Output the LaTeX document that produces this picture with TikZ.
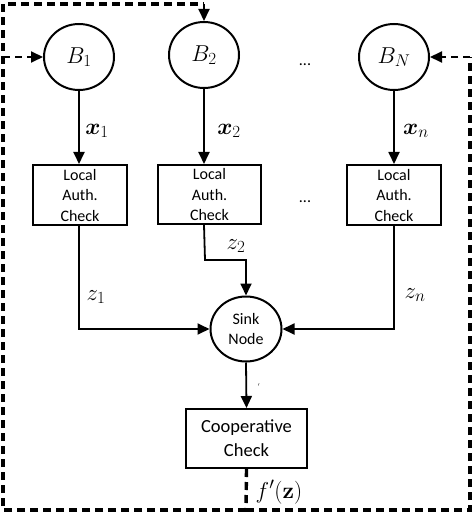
\RequirePackage{fix-cm}
\documentclass[tikz,border=0pt]{standalone}
\usepackage{amsmath}
\usepackage{bm}
\usepackage[no-math]{fontspec}
\setmainfont{Carlito}
\usetikzlibrary{shapes.geometric,arrows.meta}
\newcommand\mfsz{\fontsize{23}{27}\selectfont}
\newcommand\lfsz{\fontsize{16}{20.5}\selectfont}
\newcommand\cfsz{\fontsize{18.5}{24}\selectfont}
\DeclareMathSizes{23}{23}{17}{13}
\begin{document}
\begin{tikzpicture}[x=1pt,y=-1pt,
  bnode/.style={ellipse,draw,line width=2pt,minimum width=70pt,minimum height=66pt,inner sep=0pt,font=\mfsz},
  lbox/.style={rectangle,draw,line width=2pt,minimum width=94pt,minimum height=60pt,inner sep=0pt,align=center,font=\lfsz},
  arr/.style={line width=1.8pt,-{Triangle[length=12pt,width=11pt]}},
  feedback/.style={line width=3.4pt,dash pattern=on 8pt off 5pt},
  fbarr/.style={line width=2pt,dash pattern=on 7pt off 5pt,-{Triangle[length=12pt,width=11pt]}},
  lbl/.style={font=\mfsz,inner sep=0pt}]
\useasboundingbox (0,0) rectangle (474,513);
% source nodes
\node[bnode] (B1) at (79,57) {$B_1$};
\node[bnode] (B2) at (204,55) {$B_2$};
\node[bnode] (BN) at (394,57) {$B_N$};
\node[font=\lfsz] (d1) at (305,65) {...};
% local checks
\node[lbox] (L1) at (80,195) {Local\\Auth.\\Check};
\node[lbox,minimum width=103pt,minimum height=59pt] (L2) at (209.5,194.5) {Local\\Auth.\\Check};
\node[lbox] (LN) at (394,195) {Local\\Auth.\\Check};
\node[font=\lfsz] (d2) at (305,202) {...};
% sink and cooperative
\node[bnode,minimum width=71pt,minimum height=65pt,font=\lfsz,align=center] (S) at (246,329) {Sink\\Node};
\node[lbox,minimum width=121pt,minimum height=59pt,font=\cfsz] (C) at (246.5,438.5) {Cooperative\\Check};
% labels
\node[lbl] (x1) at (97,131) {$\bm{x}_1$};
\node[lbl] (x2) at (229,131) {$\bm{x}_2$};
\node[lbl] (xn) at (416,131) {$\bm{x}_n$};
\node[lbl] (z1) at (96,297) {$z_1$};
\node[lbl] (z2) at (236,246) {$z_2$};
\node[lbl] (zn) at (415,295) {$z_n$};
\node[lbl] (fz) at (279,492) {$f'(\mathbf{z})$};
\node[font=\fontsize{7}{7}\selectfont,inner sep=0pt] (tick) at (259,387) {$'$};
% connectors
\coordinate (k2) at (205,260);
\coordinate (k3) at (246,260);
\draw[arr] (B1.south) -- (B1.south |- L1.north);
\draw[arr] (B2.south) -- (B2.south |- L2.north);
\draw[arr] (BN.south) -- (BN.south |- LN.north);
\draw[arr] (B1.south |- L1.south) -- (B1.south |- S.west) -- (S.west);
\draw[arr] (B2.south |- L2.south) -- (k2) -- (k3) -- (S.north);
\draw[arr] (BN.south |- LN.south) -- (BN.south |- S.east) -- (S.east);
\draw[arr] (S.south) -- (C.north);
% feedback
\coordinate (cb) at (246,510);
\coordinate (c1) at (3,510);
\coordinate (c2) at (3,4);
\coordinate (c3) at (204,4);
\coordinate (c4) at (470,510);
\coordinate (c5) at (470,57);
\coordinate (c6) at (3,57);
\draw[feedback] (C.south) -- (cb);
\draw[feedback] (cb) -- (c1) -- (c2) -- (c3);
\draw[fbarr] (c3) -- (B2.north);
\draw[fbarr] (c6) -- (B1.west);
\draw[feedback] (cb) -- (c4) -- (c5);
\draw[fbarr] (c5) -- (BN.east);
\end{tikzpicture}
\end{document}
